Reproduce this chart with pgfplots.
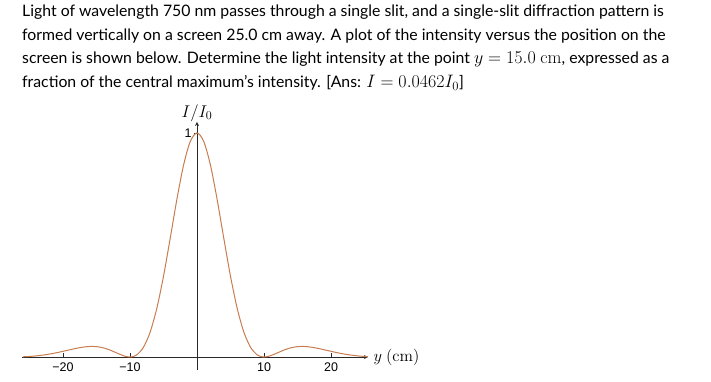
\RequirePackage{fix-cm}
\documentclass[border=0pt]{standalone}
\usepackage[no-math]{fontspec}
\usepackage{pgfplots}
\pgfplotsset{compat=1.18}
\setmainfont{Lato}
\newfontfamily\tickfont{Liberation Sans}
\definecolor{curve}{RGB}{200,125,80}
\definecolor{axc}{RGB}{40,40,40}
\newcommand{\M}[1]{{\fontsize{18}{18}\selectfont$#1$}}
\begin{document}
\begin{tikzpicture}[x=1pt,y=1pt]
\path[use as bounding box] (0,0) rectangle (711,-382);
\node[anchor=north west, inner sep=0pt, align=left, font=\fontsize{15.8}{23.7}\selectfont] at (22,-4.5)
{Light of wavelength 750 nm passes through a single slit, and a single-slit diffraction pattern is\\
formed vertically on a screen 25.0 cm away. A plot of the intensity versus the position on the\\
screen is shown below. Determine the light intensity at the point \M{y=15.0\ \mathrm{cm}}, expressed as a\\
fraction of the central maximum's intensity. [Ans: \M{I=0.0462I_0}]};
\begin{axis}[
  at={(197pt,-357pt)}, anchor=origin,
  axis lines=middle, scale only axis, width=346pt, height=248pt,
  xmin=-26.12, xmax=25.52, ymin=-0.058, ymax=1.049,
  axis line style={draw=axc, line width=0.8pt},
  xtick={-20,-10,10,20}, xticklabels={−20,−10,10,20},
  ytick={1}, yticklabels={1},
  tick label style={font=\tickfont\fontsize{12.5}{13}\selectfont, text=black},
  major tick length=4pt,
  xtick style={draw=axc, line width=0.6pt, yshift=2pt},
  ytick style={draw=axc, line width=0.6pt, xshift=-1pt},
  xlabel={$y\ (\mathrm{cm})$}, ylabel={$I/I_0$},
  every axis x label/.style={at={(current axis.right of origin)}, anchor=west, xshift=2pt, font=\fontsize{16.5}{16.5}\selectfont},
  every axis y label/.style={at={(current axis.above origin)}, anchor=south, yshift=-3pt, font=\fontsize{17}{17}\selectfont},
]
\addplot[curve, line width=1pt, smooth] coordinates {
(-26,0.00092)(-25,0.00247)(-24,0.00495)(-23,0.00849)(-22,0.01313)(-21,0.01881)(-20,0.02532)
(-19,0.03222)(-18,0.03880)(-17,0.04411)(-16,0.04699)(-15,0.04624)(-14,0.04100)(-13,0.03123)
(-12,0.01836)(-11,0.00592)(-10.5,0.00166)(-10,0)(-9.5,0.00206)(-9,0.00907)(-8,0.04292)
(-7,0.11055)(-6,0.21706)(-5,0.36053)(-4,0.52969)(-3,0.70409)(-2,0.85723)(-1,0.96247)(0,1)
(1,0.96247)(2,0.85723)(3,0.70409)(4,0.52969)(5,0.36053)(6,0.21706)(7,0.11055)(8,0.04292)
(9,0.00907)(9.5,0.00206)(10,0)(10.5,0.00166)(11,0.00592)(12,0.01836)(13,0.03123)(14,0.04100)
(15,0.04624)(16,0.04699)(17,0.04411)(18,0.03880)(19,0.03222)(20,0.02532)(21,0.01881)
(22,0.01313)(23,0.00849)(24,0.00495)(25,0.00247)(26,0.00092)
};
\end{axis}
\end{tikzpicture}
\end{document}
